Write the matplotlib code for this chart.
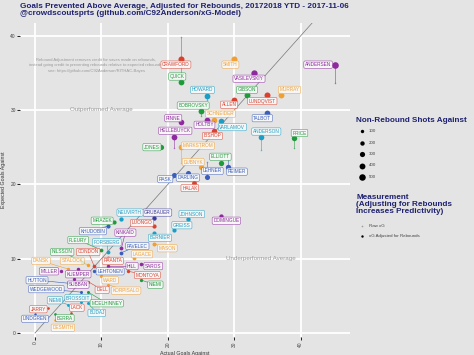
import matplotlib
matplotlib.use("Agg")
import matplotlib.pyplot as plt

plt.rcParams['font.family'] = ['Liberation Sans', 'DejaVu Sans']

# goalie data: actual goals against, xG adjusted for rebounds, raw xG
goalies = ["CRAWFORD", "QUICK", "SMITH", "ANDERSEN", "VASILEVSKIY", "HOWARD", "GIBSON", "ALLEN",
           "LUNDQVIST", "MURRAY", "TALBOT", "BOBROVSKY", "SCHNEIDER", "RINNE", "HOLTBY", "VARLAMOV",
           "HELLEBUYCK", "BISHOP", "ANDERSON", "PRICE", "JONES", "MARKSTROM", "ELLIOTT", "DUBNYK",
           "REIMER", "LEHNER", "RASK", "DARLING", "HALAK", "JOHNSON", "GREISS", "DOMINGUE",
           "GRUBAUER", "LUONGO", "BERNIER", "MASON", "NEUVIRTH", "MRAZEK", "KHUDOBIN", "KINKAID",
           "PAVELEC", "FORSBERG", "FLEURY", "NILSSON", "CONDON", "LAGACE", "RAANTA", "DANSK",
           "STALOCK", "MILLER", "KUEMPER", "LEHTONEN", "HILL", "SAROS", "MONTOYA", "WARD",
           "NIEMI", "HUTTON", "SUBBAN", "DELL", "KORPISALO", "WEDGEWOOD", "NIEMI", "BROSSOIT",
           "MCELHINNEY", "LACK", "BUDAJ", "JARRY", "BERRA", "LINDGREN", "DESMITH"]
goals_against = [22.0, 22.0, 30.0, 45.2, 33.0, 25.9, 31.9, 30.0, 34.9, 37.0, 34.9, 25.0, 27.0, 22.0, 25.9, 28.0,
                 20.9, 27.0, 34.0, 39.0, 19.0, 22.0, 28.0, 25.0, 29.1, 25.9, 20.9, 23.0, 23.9, 23.0, 20.9, 28.0,
                 17.9, 17.9, 17.9, 17.9, 13.0, 11.9, 11.0, 13.0, 13.0, 11.0, 9.9, 7.1, 8.9, 14.9, 11.0, 5.0,
                 8.0, 3.9, 6.5, 8.9, 11.0, 16.0, 14.0, 9.9, 16.0, 5.0, 5.9, 8.0, 11.0, 6.9, 5.0, 6.9,
                 8.0, 5.4, 8.0, 2.0, 3.0, 0.0, 3.0]
xg_adjusted = [36.9, 33.8, 36.9, 36.1, 35.0, 31.9, 32.0, 31.4, 32.0, 32.0, 29.6, 29.9, 28.7, 28.4, 28.7, 28.5,
               26.4, 27.2, 26.4, 26.2, 25.0, 25.0, 22.9, 22.3, 22.3, 21.0, 21.3, 21.5, 20.2, 15.3, 13.9, 15.7,
               15.5, 14.4, 13.5, 12.0, 15.3, 14.9, 14.4, 11.4, 10.8, 10.9, 11.2, 9.6, 9.0, 10.1, 10.1, 8.6,
               9.2, 8.3, 8.6, 8.3, 9.0, 9.3, 8.3, 7.7, 7.1, 6.7, 7.3, 6.9, 6.5, 5.5, 3.8, 4.2,
               5.5, 2.7, 4.0, 3.4, 2.6, 2.6, 1.7]
xg_raw = [36.9, 39.8, 36.9, 33.6, 34.1, 31.3, 32.0, 31.4, 32.0, 32.0, 29.6, 29.2, 28.7, 28.4, 28.7, 28.5,
          24.9, 27.2, 24.6, 24.9, 25.0, 22.9, 22.9, 22.3, 23.3, 23.0, 21.3, 21.5, 20.2, 15.3, 13.9, 15.7,
          15.5, 14.4, 13.5, 12.0, 15.3, 14.9, 14.4, 11.4, 10.8, 10.9, 11.2, 9.6, 9.0, 10.1, 10.1, 8.6,
          9.2, 8.3, 8.6, 8.3, 9.0, 9.3, 8.3, 7.7, 7.1, 6.7, 7.3, 6.9, 6.5, 5.5, 3.8, 4.2,
          5.5, 2.7, 4.0, 3.4, 2.6, 2.6, 1.7]
shots = [430, 380, 430, 520, 470, 380, 400, 390, 420, 400, 380, 390, 370, 360, 370, 360,
         380, 340, 360, 330, 300, 360, 320, 300, 320, 290, 290, 280, 260, 200, 180, 190,
         200, 180, 170, 160, 190, 180, 170, 140, 140, 140, 140, 120, 120, 130, 130, 100,
         110, 100, 110, 100, 110, 120, 100, 90, 90, 80, 90, 80, 80, 70, 50, 60,
         70, 40, 60, 40, 40, 30, 30]
teams_color = ["red", "green", "orange", "purple", "purple", "teal", "green", "red",
               "red", "orange", "blue", "green", "orange", "purple", "purple", "teal",
               "purple", "red", "teal", "green", "green", "orange", "green", "orange",
               "blue", "blue", "blue", "blue", "red", "teal", "teal", "purple",
               "navy", "red", "teal", "orange", "teal", "green", "blue", "purple",
               "blue", "teal", "green", "green", "red", "orange", "red", "orange",
               "orange", "purple", "purple", "blue", "purple", "purple", "red", "orange",
               "green", "blue", "purple", "red", "orange", "blue", "teal", "teal",
               "green", "red", "teal", "red", "green", "blue", "orange"]

# where each label box sits (repelled layout, data units)
label_xy = [(21.2, 36.1), (21.4, 34.5), (29.4, 36.1), (42.6, 36.1), (32.2, 34.2), (25.2, 32.7), (31.9, 32.7), (29.2, 30.7),
            (34.2, 31.2), (38.3, 32.7), (34.2, 28.9), (23.8, 30.6), (27.9, 29.5), (20.8, 28.9), (25.5, 28.0), (29.7, 27.7),
            (21.1, 27.2), (26.7, 26.5), (34.8, 27.1), (39.8, 26.9), (17.6, 25.0), (24.5, 25.2), (27.9, 23.7), (23.8, 23.0),
            (30.4, 21.7), (26.7, 21.8), (19.6, 20.7), (23.0, 20.9), (23.3, 19.5), (23.6, 16.0), (22.1, 14.5), (28.8, 15.1),
            (18.4, 16.2), (16.1, 14.8), (18.8, 12.8), (19.9, 11.4), (14.3, 16.2), (10.1, 15.1), (8.7, 13.7), (13.6, 13.5),
            (15.4, 11.7), (10.8, 12.2), (6.5, 12.5), (4.1, 10.9), (8.0, 10.9), (16.1, 10.6), (11.7, 9.7), (0.9, 9.7),
            (5.6, 9.7), (2.1, 8.3), (6.5, 7.9), (11.3, 8.3), (14.6, 9.0), (17.8, 9.0), (16.9, 7.8), (11.3, 7.1),
            (18.1, 6.5), (0.3, 7.1), (6.5, 6.5), (10.1, 5.8), (13.7, 5.7), (1.7, 5.9), (3.0, 4.4), (6.5, 4.7),
            (10.8, 4.0), (6.3, 3.4), (9.3, 2.7), (0.5, 3.2), (4.5, 2.0), (0.0, 1.9), (4.2, 0.7)]

palette = {"red": "#D9412E", "orange": "#F0A033", "purple": "#8E2A9E", "green": "#1E9A3A",
           "blue": "#3A5EBA", "teal": "#1C9EC4", "navy": "#3A3A9C"}
bg = "#E4E4E4"
navy = "#1F2270"

fig = plt.figure(figsize=(4.74, 3.55), dpi=100, facecolor=bg)
ax = fig.add_axes([20/474, 18/355, 330/474, 314/355])
ax.set_facecolor(bg)
for s in ax.spines.values():
    s.set_visible(False)
ax.set_xlim(-2.26, 47.4)
ax.set_ylim(-0.54, 41.7)
ax.set_xticks([0, 10, 20, 30, 40])
ax.set_yticks([0, 10, 20, 30, 40])
ax.grid(color="white", linewidth=1.3)
ax.set_axisbelow(True)
ax.tick_params(length=2, width=0.6, labelsize=3.5, labelcolor="#444444", pad=1)
plt.setp(ax.get_xticklabels(), rotation=90)
ax.set_xlabel("Actual Goals Against", fontsize=3.8, color="#333333", labelpad=3)
ax.set_ylabel("Expected Goals Against", fontsize=3.8, color="#333333", labelpad=3)

ax.plot([0, 42], [0, 42], color="#777777", linewidth=0.5, zorder=1)

ax.text(10, 30, "Outperformed Average", fontsize=4.5, color="#999999", ha="center", va="center")
ax.text(34, 10, "Underperformed Average", fontsize=4.5, color="#999999", ha="center", va="center")
ax.text(9.2, 36.0, "Rebound Adjustment removes credit for saves made on rebounds,\n"
        "instead going credit to preventing rebounds relative to expected rebounds.\n"
        "see: https://github.com/C92Anderson/RITHAC-Bayes",
        fontsize=3.0, color="#999999", ha="center", va="center", linespacing=1.55)

for i in range(len(goalies)):
    c = palette[teams_color[i]]
    x = goals_against[i]
    lx, ly = label_xy[i]
    if xg_raw[i] != xg_adjusted[i]:
        ax.plot([x, x], [xg_raw[i], xg_adjusted[i]], color=c, linewidth=0.6, alpha=0.6, zorder=2)
    ax.scatter([x], [xg_raw[i]], s=1.5, color=c, alpha=0.4, zorder=2, linewidths=0)
    ax.scatter([x], [xg_adjusted[i]], s=2 + shots[i] * 0.04, color=c, zorder=3, linewidths=0)
    if abs(lx - x) > 1.8 or abs(ly - xg_adjusted[i]) > 1.2:
        ax.plot([x, lx], [xg_adjusted[i], ly], color=c, linewidth=0.4, zorder=2)
    ax.text(lx, ly, goalies[i], fontsize=3.4, color=c, ha="center", va="center", zorder=4,
            bbox=dict(boxstyle="round,pad=0.25,rounding_size=0.3", fc="#FAFAFA", ec=c, lw=0.4, alpha=0.85))

fig.text(20/474, 1 - 3/355, "Goals Prevented Above Average, Adjusted for Rebounds, 20172018 YTD - 2017-11-06\n"
         "@crowdscoutsprts (github.com/C92Anderson/xG-Model)",
         fontsize=5.85, fontweight="bold", color=navy, ha="left", va="top", linespacing=1.08)

# legends drawn in a side panel using pixel-like coords
lax = fig.add_axes([350/474, 0, 124/474, 1])
lax.set_xlim(350, 474)
lax.set_ylim(355, 0)
lax.axis("off")
lax.text(356, 120, "Non-Rebound Shots Against", fontsize=5.85, fontweight="bold", color=navy, va="center")
size_levels = [100, 200, 300, 400, 500]
for k, v in enumerate(size_levels):
    yy = 131 + k * 11.5
    lax.scatter([362], [yy], s=2 + v * 0.04, color="black", linewidths=0)
    lax.text(369, yy, str(v), fontsize=3.2, color="#444444", va="center")
lax.text(356, 204.5, "Measurement\n(Adjusting for Rebounds\nIncreases Predictivity)", fontsize=5.85,
         fontweight="bold", color=navy, va="center", linespacing=0.95)
lax.scatter([362], [226], s=1.5, color="black", alpha=0.3, linewidths=0)
lax.text(369, 226, "Raw xG", fontsize=3.2, color="#444444", va="center")
lax.scatter([362], [236], s=3, color="black", linewidths=0)
lax.text(369, 236, "xG Adjusted for Rebounds", fontsize=3.2, color="#444444", va="center")

fig.savefig("out.png", dpi=100, facecolor=bg)
